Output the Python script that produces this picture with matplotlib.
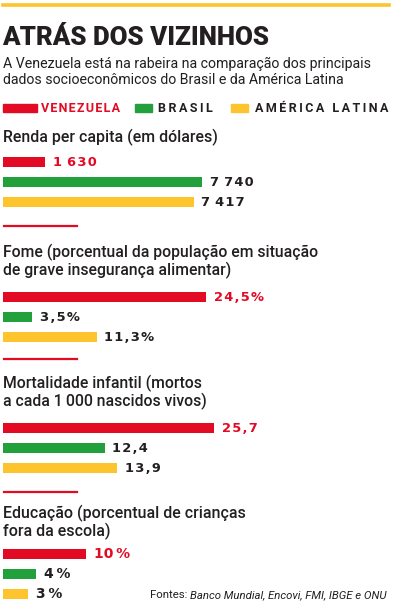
import matplotlib
matplotlib.use('Agg')
import matplotlib.pyplot as plt

W, H = 393, 608

# data
series = ['VENEZUELA', 'BRASIL', 'AMÉRICA LATINA']
sections = ['Renda per capita (em dólares)',
            'Fome (porcentual da população em situação\nde grave insegurança alimentar)',
            'Mortalidade infantil (mortos\na cada 1\u2009000 nascidos vivos)',
            'Educação (porcentual de crianças\nfora da escola)']
venezuela = [1630, 24.5, 25.7, 10]
brasil = [7740, 3.5, 12.4, 4]
america_latina = [7417, 11.3, 13.9, 3]
labels_venezuela = ['1 630', '24,5%', '25,7', '10 %']
labels_brasil = ['7 740', '3,5%', '12,4', '4 %']
labels_america = ['7 417', '11,3%', '13,9', '3 %']

RED = '#E30A23'
GREEN = '#22A03C'
YELLOW = '#FEC42E'
DARK = '#231F20'

fig = plt.figure(figsize=(W / 100, H / 100), dpi=100)
fig.patch.set_facecolor('white')
renderer = fig.canvas.get_renderer()


def fx(x):
    return x / W


def fy(y):
    return 1 - y / H


def track(s, sp='\u200a'):
    return sp.join(s)


def fit(t, width):
    # scale font so the text spans the given pixel width
    bb = t.get_window_extent(renderer)
    t.set_fontsize(t.get_fontsize() * width / bb.width)
    return t


sub_font = ['Roboto', 'DejaVu Sans']

# top rule
fig.add_artist(plt.Line2D([fx(3), fx(389)], [fy(5), fy(5)], color=YELLOW, lw=2.6))

# no condensed face installed: use a heavy one, a bit wider than the original
t = fig.text(fx(2), fy(45), 'ATRÁS DOS VIZINHOS', family=sub_font, weight=900,
             color=DARK, va='baseline', fontsize=20)
fit(t, 268)

t = fig.text(fx(3), fy(68), 'A Venezuela está na rabeira na comparação dos principais',
             fontsize=9.6, family=sub_font, color=DARK, va='baseline')
fit(t, 372)
fig.text(fx(3), fy(84), 'dados socioeconômicos do Brasil e da América Latina',
         fontsize=t.get_fontsize(), family=sub_font, color=DARK, va='baseline')

# legend: same letter size everywhere, spacing picked to match the width
leg = [(3, 37, 41, 117, RED, RED), (135, 152, 158, 213, GREEN, DARK),
       (231, 248, 255, 388, YELLOW, DARK)]
tb = fig.text(0, 0, track('BRASIL', '\u2009'), fontsize=8, fontweight='bold',
              family=sub_font)
fit(tb, 55)
leg_fs = tb.get_fontsize()
tb.remove()
for (x0, x1, tx0, tx1, c, tc), name in zip(leg, series):
    fig.add_artist(plt.Rectangle((fx(x0), fy(112)), fx(x1 - x0), 8 / H, color=c))
    best = None
    for sp in ['\u2009', '\u200a', '']:
        t = fig.text(fx(tx0), fy(112), track(name, sp), fontsize=leg_fs,
                     fontweight='bold', color=tc, va='baseline', family=sub_font)
        err = abs(t.get_window_extent(renderer).width - (tx1 - tx0))
        if best is None or err < best[0]:
            if best is not None:
                best[1].remove()
            best = (err, t)
        else:
            t.remove()

# layout per section (top of first bar, px per unit, title baselines)
bar_tops = [157, 292, 423, 549]
scales = [199 / 7740, 8.29, 8.21, 8.3]
title_base = [142, 257, 388, 518]
title_width = [214, 314, 197, 242]
separators = [226, 359, 492]

for i in range(4):
    y0 = bar_tops[i]
    ax = fig.add_axes([fx(3), fy(y0 + 55), fx(300), 60 / H])
    ax.set_xlim(0, 300 / scales[i])
    ax.set_ylim(2.5, -0.5)
    ax.axis('off')
    vals = [venezuela[i], brasil[i], america_latina[i]]
    labs = [labels_venezuela[i], labels_brasil[i], labels_america[i]]
    ax.barh([0, 1, 2], vals, height=0.5, color=[RED, GREEN, YELLOW])
    for j, (v, lab) in enumerate(zip(vals, labs)):
        if i < 3:
            txt = track(lab.replace(' ', '\u2009'))
            fs = 9.4
        else:
            txt = lab.replace(' ', '\u2009')
            fs = 10
        ax.annotate(txt, (v, j), xytext=(5.5, -0.3), textcoords='offset points',
                    va='center', ha='left', fontsize=fs, fontweight='heavy',
                    color=RED if j == 0 else DARK, annotation_clip=False)

    lines = sections[i].split('\n')
    ts = []
    for k, line in enumerate(lines):
        ts.append(fig.text(fx(3), fy(title_base[i] + 18.5 * k), line, fontsize=10.2,
                           fontweight='medium', family=sub_font,
                           color=DARK, va='baseline'))
    fit(ts[0], title_width[i])
    for tt in ts[1:]:
        tt.set_fontsize(ts[0].get_fontsize())

for y in separators:
    fig.add_artist(plt.Line2D([fx(4), fx(77)], [fy(y), fy(y)], color=RED, lw=1.6))

# sources
t1 = fig.text(fx(150), fy(598), 'Fontes: ', fontsize=7.6, color=DARK, va='baseline',
              family=sub_font)
w1 = t1.get_window_extent(renderer).width
t2 = fig.text(fx(150 + w1), fy(598), 'Banco Mundial, Encovi, FMI, IBGE e ONU', fontsize=7.6,
              style='italic', color=DARK, va='baseline', family=sub_font)
w2 = t2.get_window_extent(renderer).width
k = 237 / (w1 + w2)
t1.set_fontsize(7.6 * k)
t2.set_fontsize(7.6 * k)
t2.set_x(fx(150 + w1 * k))

fig.savefig('out.png', dpi=100, facecolor='white')
